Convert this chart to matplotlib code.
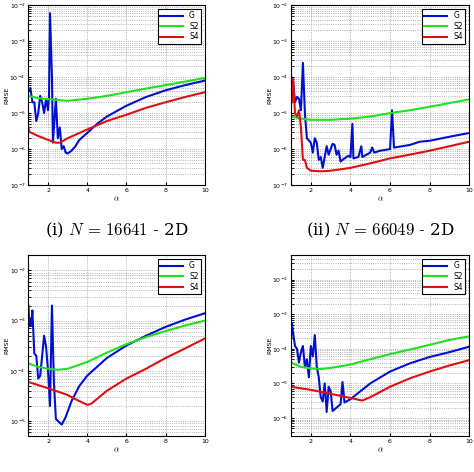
import numpy as np
import matplotlib
matplotlib.use('Agg')
import matplotlib.pyplot as plt

plt.rcParams['mathtext.fontset'] = 'cm'

# panel (i)
tl_g_x = [1.0, 1.1, 1.2, 1.3, 1.4, 1.5, 1.6, 1.7, 1.8, 1.9, 2.0, 2.05, 2.1, 2.2, 2.25, 2.4, 2.5, 2.6, 2.7, 2.8, 2.9, 3.0, 3.2, 3.4, 3.6, 4.0, 4.5, 5, 6, 7, 8, 9, 10]
tl_g_y = [4e-5, 5e-5, 2e-5, 2e-5, 6e-6, 1e-5, 3e-5, 2e-5, 1e-5, 2.5e-5, 1.2e-5, 3e-5, 6e-3, 1e-4, 1.5e-6, 2.5e-5, 2e-6, 4e-6, 1e-6, 1.2e-6, 8e-7, 7.5e-7, 9e-7, 1.2e-6, 1.8e-6, 2.8e-6, 5e-6, 8e-6, 1.6e-5, 2.8e-5, 4.3e-5, 6e-5, 8e-5]
tl_s2_x = [1, 1.5, 2.5, 3, 4, 5, 6, 7, 8, 9, 10]
tl_s2_y = [3e-5, 2.6e-5, 2.3e-5, 2.2e-5, 2.5e-5, 3e-5, 3.8e-5, 4.8e-5, 6e-5, 7.5e-5, 9.5e-5]
tl_s4_x = [1, 1.05, 1.5, 2, 2.4, 2.6, 3, 4, 5, 6, 7, 8, 9, 10]
tl_s4_y = [4e-6, 3e-6, 2.3e-6, 1.8e-6, 1.5e-6, 1.5e-6, 2e-6, 3.5e-6, 6e-6, 9e-6, 1.4e-5, 2e-5, 2.8e-5, 3.8e-5]

# panel (ii)
tr_g_x = [1.0, 1.05, 1.1, 1.2, 1.3, 1.4, 1.5, 1.6, 1.7, 1.8, 2.0, 2.1, 2.2, 2.3, 2.4, 2.5, 2.6, 2.7, 2.8, 2.9, 3.0, 3.1, 3.2, 3.3, 3.4, 3.5, 3.7, 3.9, 4.0, 4.1, 4.15, 4.4, 4.55, 4.6, 5, 5.1, 5.2, 5.5, 6.0, 6.1, 6.2, 7, 7.5, 8, 9, 10]
tr_g_y = [1.2e-4, 3e-5, 8e-5, 2e-5, 2.8e-5, 2.5e-5, 1.2e-5, 2.5e-4, 1e-5, 2e-6, 1.5e-6, 8e-7, 2e-6, 1.5e-6, 5e-7, 6e-7, 3e-7, 6e-7, 1.2e-6, 7e-7, 1e-6, 1.4e-6, 1.3e-6, 7e-7, 9e-7, 4.5e-7, 5.5e-7, 6.5e-7, 6e-7, 5e-6, 5.5e-7, 6e-7, 1.2e-6, 6e-7, 8e-7, 1.1e-6, 8e-7, 9e-7, 1e-6, 1.2e-5, 1.1e-6, 1.3e-6, 1.6e-6, 1.7e-6, 2.2e-6, 2.8e-6]
tr_s2_x = [1, 1.5, 2, 3, 4, 5, 6, 7, 8, 9, 10]
tr_s2_y = [8e-6, 7e-6, 6.5e-6, 6.5e-6, 7e-6, 8e-6, 1e-5, 1.2e-5, 1.5e-5, 1.9e-5, 2.4e-5]
tr_s4_x = [1, 1.05, 1.1, 1.2, 1.3, 1.4, 1.5, 1.6, 1.7, 1.8, 2, 2.5, 3, 4, 5, 6, 7, 8, 9, 10]
tr_s4_y = [1e-4, 2e-5, 9e-5, 1e-5, 8e-6, 1.2e-5, 4e-6, 5e-7, 5e-7, 3e-7, 2.5e-7, 2.4e-7, 2.5e-7, 3e-7, 4e-7, 5.5e-7, 7e-7, 9e-7, 1.2e-6, 1.6e-6]

# panel (iii)
bl_g_x = [1.0, 1.05, 1.1, 1.15, 1.2, 1.3, 1.4, 1.5, 1.6, 1.7, 1.8, 1.9, 2.0, 2.1, 2.2, 2.3, 2.4, 2.5, 2.7, 2.9, 3.2, 3.6, 4, 5, 6, 7, 8, 9, 10]
bl_g_y = [2e-3, 8e-4, 1.1e-3, 8e-4, 1.6e-3, 2.2e-4, 2e-4, 7e-5, 8e-5, 2e-4, 5e-4, 3e-4, 1e-4, 2e-5, 2e-3, 6e-5, 1.1e-5, 1e-5, 8.5e-6, 1.2e-5, 2.5e-5, 5e-5, 8e-5, 1.8e-4, 3.2e-4, 5e-4, 7.5e-4, 1.05e-3, 1.4e-3]
bl_s2_x = [1, 1.5, 2, 2.5, 3, 4, 5, 6, 7, 8, 9, 10]
bl_s2_y = [1.4e-4, 1.2e-4, 1.1e-4, 1.05e-4, 1.1e-4, 1.5e-4, 2.3e-4, 3.4e-4, 4.7e-4, 6.2e-4, 8e-4, 1e-3]
bl_s4_x = [1, 2, 3, 3.5, 4, 4.2, 5, 6, 7, 8, 9, 10]
bl_s4_y = [6e-5, 4.5e-5, 3.3e-5, 2.6e-5, 2.1e-5, 2.2e-5, 4e-5, 7e-5, 1.1e-4, 1.8e-4, 2.8e-4, 4.4e-4]

# panel (iv)
br_g_x = [1.0, 1.05, 1.1, 1.2, 1.3, 1.4, 1.5, 1.6, 1.7, 1.8, 1.9, 2.0, 2.1, 2.2, 2.3, 2.4, 2.5, 2.6, 2.7, 2.8, 2.9, 3.0, 3.1, 3.3, 3.5, 3.6, 3.7, 4, 5, 6, 7, 8, 9, 10]
br_g_y = [2e-4, 5.5e-4, 3e-4, 1.2e-4, 1e-4, 4e-5, 8e-5, 1.2e-4, 3e-5, 5e-5, 1.5e-5, 1.2e-4, 6e-5, 2.5e-4, 3e-5, 1.5e-5, 4e-6, 3e-6, 1e-5, 1.5e-6, 8e-6, 6e-6, 1.6e-6, 2e-6, 2.5e-6, 1.1e-5, 2.8e-6, 3.5e-6, 1e-5, 2.2e-5, 3.8e-5, 5.8e-5, 8e-5, 1.15e-4]
br_s2_x = [1, 1.5, 2, 2.5, 3, 4, 5, 6, 7, 8, 9, 10]
br_s2_y = [4e-5, 3e-5, 2.7e-5, 2.6e-5, 2.8e-5, 3.5e-5, 5e-5, 7e-5, 9.5e-5, 1.3e-4, 1.8e-4, 2.3e-4]
br_s4_x = [1, 2, 3, 4, 4.6, 5, 6, 7, 8, 9, 10]
br_s4_y = [8e-6, 6.5e-6, 5e-6, 3.8e-6, 3.2e-6, 4e-6, 8e-6, 1.4e-5, 2.2e-5, 3.3e-5, 4.7e-5]

panels = [
    ([0.06, 0.608, 0.372, 0.381], (1e-7, 1e-2), (tl_g_x, tl_g_y), (tl_s2_x, tl_s2_y), (tl_s4_x, tl_s4_y), r'(i) $N\,=\,16641$ - 2D'),
    ([0.614, 0.608, 0.376, 0.381], (1e-7, 1e-2), (tr_g_x, tr_g_y), (tr_s2_x, tr_s2_y), (tr_s4_x, tr_s4_y), r'(ii) $N\,=\,66049$ - 2D'),
    ([0.06, 0.076, 0.372, 0.383], (5e-6, 2e-2), (bl_g_x, bl_g_y), (bl_s2_x, bl_s2_y), (bl_s4_x, bl_s4_y), r'(iii) $N\,=\,4913$ - 3D'),
    ([0.614, 0.076, 0.376, 0.383], (3e-7, 5e-2), (br_g_x, br_g_y), (br_s2_x, br_s2_y), (br_s4_x, br_s4_y), r'(iv) $N\,=\,35937$ - 3D'),
]

fig = plt.figure(figsize=(4.74, 4.72), dpi=100)
for rect, ylim, g, s2, s4, cap in panels:
    ax = fig.add_axes(rect)
    ax.plot(*g, color='#0010d0', lw=1.5, label='G')
    ax.plot(*s2, color='#20e020', lw=1.5, label='S2')
    ax.plot(*s4, color='#e01010', lw=1.5, label='S4')
    ax.set_yscale('log')
    ax.set_xlim(1, 10)
    ax.set_ylim(*ylim)
    ax.set_xticks([2, 4, 6, 8, 10])
    ax.grid(True, which='both', ls=':', lw=0.6, color='#999999')
    ax.tick_params(labelsize=4.5, length=2, which='both', direction='in', pad=2)
    ax.set_xlabel(r'$\alpha$', fontsize=6, labelpad=1)
    ax.set_ylabel('RMSE', fontsize=4.5, labelpad=0)
    leg = ax.legend(loc='upper right', fontsize=5.5, fancybox=False, framealpha=1,
                    edgecolor='black', handlelength=3, borderpad=0.3, labelspacing=0.2)
    leg.get_frame().set_linewidth(0.8)
    x0, y0, w, h = rect
    fig.text(x0 + w / 2, y0 - 0.075, cap, ha='center', va='top', fontsize=12, family='serif')

fig.savefig('out.png', dpi=100)
